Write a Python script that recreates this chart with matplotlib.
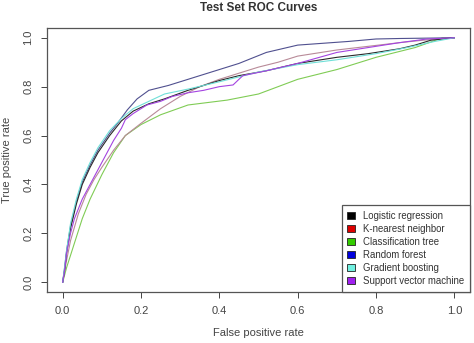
import matplotlib
matplotlib.use("Agg")
import matplotlib.pyplot as plt
from matplotlib.patches import Patch

plt.rcParams["font.family"] = ["Liberation Sans", "DejaVu Sans"]

# ROC points (false positive rate, true positive rate) per model
logit_fpr = [0, 0.005, 0.01, 0.02, 0.035, 0.05, 0.07, 0.09, 0.12, 0.15, 0.18, 0.22, 0.26, 0.32,
             0.4, 0.45, 0.52, 0.6, 0.7, 0.78, 0.86, 0.9, 0.94, 1.0]
logit_tpr = [0, 0.05, 0.12, 0.22, 0.32, 0.4, 0.47, 0.53, 0.6, 0.66, 0.7, 0.73, 0.75, 0.785,
             0.825, 0.845, 0.865, 0.895, 0.92, 0.935, 0.955, 0.97, 0.99, 1.0]

knn_fpr = [0, 0.01, 0.02, 0.04, 0.06, 0.08, 0.1, 0.13, 0.16, 0.2, 0.25, 0.3, 0.35, 0.4,
           0.45, 0.5, 0.55, 0.6, 0.7, 0.78, 0.86, 0.92, 1.0]
knn_tpr = [0, 0.09, 0.17, 0.28, 0.36, 0.42, 0.47, 0.54, 0.6, 0.65, 0.71, 0.76, 0.8, 0.83,
           0.855, 0.88, 0.9, 0.925, 0.95, 0.965, 0.98, 0.99, 1.0]

tree_fpr = [0, 0.01, 0.03, 0.05, 0.07, 0.1, 0.13, 0.16, 0.2, 0.25, 0.32, 0.42, 0.5, 0.6,
            0.7, 0.8, 0.9, 0.97, 1.0]
tree_tpr = [0, 0.06, 0.16, 0.26, 0.34, 0.44, 0.53, 0.6, 0.645, 0.685, 0.725, 0.745, 0.77, 0.83,
            0.87, 0.92, 0.96, 1.0, 1.0]

rf_fpr = [0, 0.005, 0.01, 0.02, 0.035, 0.05, 0.07, 0.09, 0.12, 0.14, 0.165, 0.19, 0.22, 0.27,
          0.32, 0.39, 0.45, 0.52, 0.6, 0.73, 0.8, 0.86, 1.0]
rf_tpr = [0, 0.06, 0.13, 0.23, 0.33, 0.41, 0.48, 0.54, 0.61, 0.65, 0.705, 0.75, 0.785, 0.805,
          0.83, 0.865, 0.895, 0.94, 0.97, 0.985, 0.995, 0.997, 1.0]

gbm_fpr = [0, 0.01, 0.02, 0.035, 0.05, 0.07, 0.09, 0.12, 0.15, 0.18, 0.22, 0.26, 0.32, 0.4,
           0.5, 0.6, 0.7, 0.8, 0.88, 0.95, 1.0]
gbm_tpr = [0, 0.13, 0.24, 0.34, 0.42, 0.49, 0.55, 0.62, 0.67, 0.71, 0.74, 0.77, 0.79, 0.82,
           0.86, 0.89, 0.91, 0.935, 0.96, 0.985, 1.0]

svm_fpr = [0, 0.005, 0.01, 0.02, 0.03, 0.05, 0.07, 0.09, 0.11, 0.13, 0.15, 0.16, 0.18, 0.215,
           0.25, 0.28, 0.32, 0.36, 0.4, 0.435, 0.45, 0.46, 0.52, 0.6, 0.7, 0.8, 0.86, 0.93, 1.0]
svm_tpr = [0, 0.05, 0.12, 0.2, 0.26, 0.34, 0.4, 0.46, 0.52, 0.58, 0.63, 0.665, 0.69, 0.725,
           0.74, 0.76, 0.775, 0.785, 0.8, 0.807, 0.83, 0.845, 0.865, 0.895, 0.94, 0.965, 0.98,
           0.995, 1.0]

models = ["Logistic regression", "K-nearest neighbor", "Classification tree",
          "Random forest", "Gradient boosting", "Support vector machine"]
line_colors = ["#2a2a2a", "#b88a98", "#80cc55", "#50508f", "#70e0d8", "#a444e0"]
fill_colors = ["#000000", "#dd0000", "#33cc00", "#0000dd", "#70f0e0", "#a020f0"]

fig = plt.figure(figsize=(4.74, 3.43), dpi=100)
ax = fig.add_axes([0.0992, 0.1487, 0.8924, 0.7697])

curves = [(logit_fpr, logit_tpr), (knn_fpr, knn_tpr), (tree_fpr, tree_tpr),
          (rf_fpr, rf_tpr), (gbm_fpr, gbm_tpr), (svm_fpr, svm_tpr)]
order = [2, 1, 3, 0, 4, 5]
for i in order:
    fpr, tpr = curves[i]
    ax.plot(fpr, tpr, color=line_colors[i], lw=0.8)

ax.set_xlim(-0.04, 1.04)
ax.set_ylim(-0.04, 1.04)
ticks = [0.0, 0.2, 0.4, 0.6, 0.8, 1.0]
ax.set_xticks(ticks)
ax.set_yticks(ticks)
ax.set_xticklabels(["%.1f" % t for t in ticks])
ax.set_yticklabels(["%.1f" % t for t in ticks], rotation=90, va="center")
ax.tick_params(colors="#444444", labelsize=8, length=4, width=0.7, pad=6)
for s in ax.spines.values():
    s.set_color("#555555")
    s.set_linewidth(0.9)

ax.set_xlabel("False positive rate", fontsize=8, color="#444444", labelpad=9)
ax.set_ylabel("True positive rate", fontsize=8, color="#444444", labelpad=8)
fig.text(0.545, 0.995, "Test Set ROC Curves", ha="center", va="top",
         fontsize=8.5, fontweight="bold", color="#333333")

handles = [Patch(facecolor=c, edgecolor="#222222", lw=0.6) for c in fill_colors]
leg = ax.legend(handles, models, loc="lower right", borderaxespad=0, fontsize=6.9,
                fancybox=False, handlelength=0.75, handleheight=0.75, handletextpad=0.9,
                labelspacing=0.32, borderpad=0.6, framealpha=1)
leg.get_frame().set_edgecolor("#555555")
leg.get_frame().set_linewidth(0.9)
for t in leg.get_texts():
    t.set_color("#333333")

fig.savefig("out.png", dpi=100)
